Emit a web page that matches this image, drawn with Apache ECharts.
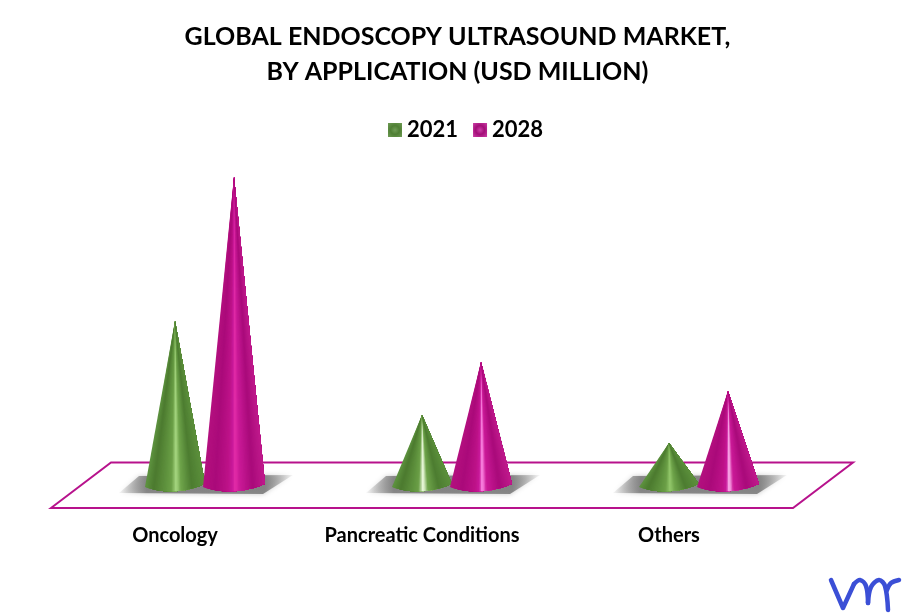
<!DOCTYPE html>
<html><head><meta charset="utf-8">
<style>html,body{margin:0;padding:0;background:#fff}#c{width:905px;height:614px}</style>
<script src="https://cdn.jsdelivr.net/npm/echarts@6/dist/echarts.min.js"></script>
</head><body><div id="c"></div>
<script>
var categories = ['Oncology', 'Pancreatic Conditions', 'Others'];
var years = ['2021', '2028'];
var values2021 = [171, 77, 49];
var values2028 = [315, 130, 101];
var sheen2021 = ['#a8d882', '#f4ffe6', '#94c96c'];
var sheen2028 = ['#e42ca8', '#ff90e8', '#ffbcf2'];

function hex(c){return [1,3,5].map(function(i){return parseInt(c.substr(i,2),16);});}
function ramp(stops,t){
  for(var i=1;i<stops.length;i++){
    if(t<=stops[i][0]){
      var a=stops[i-1],b=stops[i],k=(t-a[0])/(b[0]-a[0]),x=hex(a[1]),y=hex(b[1]);
      return 'rgb('+x.map(function(v,j){return Math.round(v+(y[j]-v)*k);}).join(',')+')';
    }
  }
  return stops[stops.length-1][1];
}
function greenStops(p){return [[0,'#5f9440'],[0.14,'#4c7a2f'],[0.34,'#5f923e'],[0.44,'#6b9f47'],[0.52,p],[0.6,'#6fa44b'],[0.78,'#4d7d31'],[1,'#5c903c']];}
function pinkStops(p){return [[0,'#b4107f'],[0.2,'#aa0a7a'],[0.4,'#bd1288'],[0.47,'#c8189a'],[0.52,p],[0.59,'#cb1a98'],[0.8,'#a90a7a'],[1,'#c01a8c']];}

// cone drawn as a fan of wedges from the tip so the sheen converges at the apex
function coneItem(stopFn,sheen,offset,width){
  return function(params,api){
    var i=api.value(0),base=api.coord([i,0]),tip=api.coord([i,api.value(1)]);
    var cx=base[0]+offset,L=cx-width/2,by=base[1],tx=cx,ty=tip[1];
    var stops=stopFn(sheen[i]),kids=[],N=44,P=[];
    for(var k=0;k<=N;k++){
      var t=k/N,u=1-t;
      var y=u*u*u*(-5)+3*u*u*t*2+3*u*t*t*0.5+t*t*t*(-8);
      P.push([L+width*t,by+y]);
    }
    for(var s=0;s<N;s++){
      var pts=[[tx,ty]].concat(P.slice(s));
      kids.push({type:'polygon',shape:{points:pts},style:{fill:ramp(stops,(s+0.5)/N)},silent:true});
    }
    return {type:'group',children:kids};
  };
}
function shadowItem(params,api){
  var i=api.value(0),b=api.coord([i,0]),x=b[0],y=b[1];
  var pts=[[x-56,y+1],[x-36,y-16],[x+118,y-17],[x+88,y+2]];
  return {type:'polygon',shape:{points:pts},silent:true,style:{
    fill:{type:'linear',x:0,y:0,x2:1,y2:0,colorStops:[
      {offset:0,color:'rgba(120,120,120,0.05)'},{offset:0.16,color:'rgba(120,120,120,0.85)'},
      {offset:0.84,color:'rgba(120,120,120,0.85)'},{offset:1,color:'rgba(120,120,120,0.05)'}]},
    shadowBlur:5,shadowColor:'rgba(120,120,120,0.5)'}};
}
function pairs(v){return v.map(function(d,i){return [i,d];});}
function icon(c1,c2){return {type:'radial',x:0.5,y:0.5,r:0.7,colorStops:[{offset:0,color:c2},{offset:0.45,color:c1},{offset:1,color:c2}]};}
function logoStroke(points){return {type:'polyline',z:5,silent:true,shape:{points:points,smooth:0.35},
  style:{fill:'none',stroke:'#3b4fd6',lineWidth:4.5,lineCap:'round',lineJoin:'round'}};}

var chart=echarts.init(document.getElementById('c'));
var font='Lato, "Open Sans", sans-serif';
chart.setOption({
  animation:false,
  backgroundColor:'#fff',
  title:{text:'GLOBAL ENDOSCOPY ULTRASOUND MARKET,\nBY APPLICATION (USD MILLION)',left:452.5,top:14,textAlign:'center',
    textStyle:{fontFamily:font,fontWeight:'bold',fontSize:25,lineHeight:35,color:'#000'}},
  legend:{left:383,top:114,itemWidth:14,itemHeight:14,itemGap:15,selectedMode:false,
    textStyle:{fontFamily:font,fontWeight:'bold',fontSize:22,color:'#000'},
    data:[{name:years[0],icon:'rect',itemStyle:{color:icon('#4f7f34','#6f9c55')}},
          {name:years[1],icon:'rect',itemStyle:{color:icon('#a30e78','#cc3ea6')}}]},
  grid:{left:51.5,right:112.5,top:177,bottom:122},
  xAxis:{type:'category',data:categories,axisLine:{show:false},axisTick:{show:false},
    axisLabel:{margin:34,interval:0,color:'#000',fontFamily:font,fontWeight:'bold',fontSize:20}},
  yAxis:{type:'value',min:0,max:315,show:false,splitLine:{show:false}},
  graphic:[
    {type:'polygon',z:0,silent:true,shape:{points:[[51,508],[111,462.5],[853,462.5],[793,508]]},
      style:{fill:'none',stroke:'#b7128c',lineWidth:2}},
    {type:'polyline',z:5,silent:true,shape:{points:[[831,580],[843,608],[854,584]]},style:{fill:'none',stroke:'#3b4fd6',lineWidth:4.5,lineCap:'round',lineJoin:'round'}},
    logoStroke([[854,584],[860,580],[866,586],[868,603]]),
    logoStroke([[868,603],[871,587],[879,580],[885,586],[888,610]]),
    logoStroke([[887,590],[891,583],[899,580]])
  ],
  series:[
    {type:'custom',name:'shadow',z:1,clip:false,silent:true,renderItem:shadowItem,data:pairs(values2028)},
    {type:'custom',name:years[0],z:3,clip:false,silent:true,renderItem:coneItem(greenStops,sheen2021,0,60),data:pairs(values2021),itemStyle:{color:'#5a8a3c'}},
    {type:'custom',name:years[1],z:4,clip:false,silent:true,renderItem:coneItem(pinkStops,sheen2028,59,62),data:pairs(values2028),itemStyle:{color:'#b10d80'}}
  ]
});
</script></body></html>
